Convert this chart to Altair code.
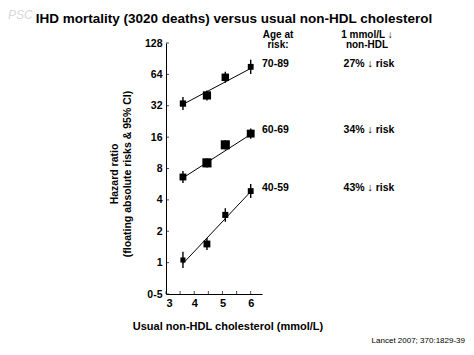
import altair as alt
import pandas as pd

# ---- data ----
cholesterol = [3.6, 4.45, 5.1, 6.0]
age_groups = ["40-59", "60-69", "70-89"]
hr_40_59 = [1.06, 1.51, 2.87, 4.86]
lo_40_59 = [0.89, 1.32, 2.47, 4.16]
hi_40_59 = [1.27, 1.72, 3.33, 5.68]
hr_60_69 = [6.63, 9.06, 13.5, 17.3]
lo_60_69 = [5.81, 8.2, 12.2, 15.4]
hi_60_69 = [7.57, 10.0, 14.9, 19.4]
hr_70_89 = [33.6, 40.2, 60.0, 75.6]
lo_70_89 = [29.1, 36.0, 53.1, 64.7]
hi_70_89 = [38.8, 44.9, 67.7, 88.3]
fit_start = [0.98, 6.5, 33.0]
fit_end = [4.8, 17.0, 73.0]
risk_labels = ["43% \u2193 risk", "34% \u2193 risk", "27% \u2193 risk"]
y_ticks = [0.5, 1, 2, 4, 8, 16, 32, 64, 128]
x_ticks = [3, 3.5, 4, 4.5, 5, 5.5, 6]

rows = []
for g, hr, lo, hi in [("40-59", hr_40_59, lo_40_59, hi_40_59),
                      ("60-69", hr_60_69, lo_60_69, hi_60_69),
                      ("70-89", hr_70_89, lo_70_89, hi_70_89)]:
    for c, h, l, u in zip(cholesterol, hr, lo, hi):
        rows.append({"group": g, "chol": c, "hr": h, "lo": l, "hi": u})
points = pd.DataFrame(rows)

fits = pd.DataFrame({
    "group": age_groups,
    "x0": [cholesterol[0]] * 3,
    "x1": [cholesterol[-1]] * 3,
    "y0": fit_start,
    "y1": fit_end,
    "risk": risk_labels,
})

FONT = "Liberation Sans"
W, H = 96, 251
xscale = alt.Scale(domain=[3, 6.4], nice=False, zero=False)
yscale = alt.Scale(type="log", base=2, domain=[0.5, 128], nice=False)

main_x_axis = alt.Axis(values=x_ticks, orient="bottom", ticks=False, tickSize=0,
                       labelExpr="datum.value % 1 == 0 ? format(datum.value, 'd') : ''",
                       domainColor="black", domainWidth=1, grid=False, title=None,
                       labelFont=FONT, labelFontSize=11, labelFontWeight="bold",
                       labelColor="black", labelPadding=3)
main_y_axis = alt.Axis(values=y_ticks, orient="left", ticks=False, tickSize=0,
                       labelExpr="datum.value == 0.5 ? '0-5' : format(datum.value, 'd')",
                       domainColor="black", domainWidth=1, grid=False, title=None,
                       labelFont=FONT, labelFontSize=10.5, labelFontWeight="bold",
                       labelColor="black", labelPadding=4)

# inward tick marks along both axes, placed by the scales
x_tick_marks = alt.Chart(pd.DataFrame({"v": x_ticks})).mark_tick(
    color="black", thickness=1, size=3, orient="vertical").encode(
    x=alt.X("v:Q", scale=xscale, axis=None), y=alt.value(H - 1.5))
y_tick_marks = alt.Chart(pd.DataFrame({"v": y_ticks})).mark_tick(
    color="black", thickness=1, size=3, orient="horizontal").encode(
    y=alt.Y("v:Q", scale=yscale, axis=None), x=alt.value(1.5))

fit_lines = alt.Chart(fits).mark_rule(color="black", strokeWidth=1).encode(
    x=alt.X("x0:Q", scale=xscale, axis=None),
    x2="x1:Q",
    y=alt.Y("y0:Q", scale=yscale, axis=None),
    y2="y1:Q",
)

error_bars = alt.Chart(points).mark_rule(color="black", strokeWidth=1.4).encode(
    x=alt.X("chol:Q", scale=xscale, axis=None),
    y=alt.Y("lo:Q", scale=yscale, axis=None),
    y2="hi:Q",
)

squares = alt.Chart(points).transform_calculate(
    prec="pow(log(datum.hi / datum.lo), -2)"
).mark_square(color="black", opacity=1, filled=True).encode(
    x=alt.X("chol:Q", scale=xscale, axis=main_x_axis),
    y=alt.Y("hr:Q", scale=yscale, axis=main_y_axis),
    size=alt.Size("prec:Q", scale=alt.Scale(type="linear", domain=[0, 100], range=[0, 330]), legend=None),
)

age_text = alt.Chart(fits).mark_text(align="left", baseline="middle", dy=-4, font=FONT,
                                     fontSize=10.5, fontWeight="bold", color="black").encode(
    x=alt.value(96), y=alt.Y("y1:Q", scale=yscale, axis=None), text="group:N")
risk_text = alt.Chart(fits).mark_text(align="center", baseline="middle", dy=-4, font=FONT,
                                      fontSize=10.5, fontWeight="bold", color="black").encode(
    x=alt.value(203), y=alt.Y("y1:Q", scale=yscale, axis=None), text="risk:N")


def label(txt, x, y, size=10.5, weight="bold", align="center", angle=0, color="black", style="normal"):
    return alt.Chart(pd.DataFrame({"t": [txt]})).mark_text(
        align=align, baseline="middle", font=FONT, fontSize=size, fontWeight=weight,
        color=color, angle=angle, fontStyle=style).encode(
        x=alt.value(x), y=alt.value(y), text="t:N")


texts = [
    label("IHD mortality (3020 deaths) versus usual non-HDL cholesterol", 68, -24, size=13.5),
    label("PSC", -158, -28, size=12, weight="normal", align="left", color="#d8d8d8", style="italic"),
    label("Age at", 112, -8, size=10),
    label("risk:", 112, 2, size=10),
    label("1 mmol/L \u2193", 201, -8, size=10),
    label("non-HDL", 201, 2, size=10),
    label("Hazard ratio", -51, 131, angle=270),
    label("(floating absolute risks & 95% CI)", -38, 131, angle=270),
    label("Usual non-HDL cholesterol (mmol/L)", 62, 284, size=11),
    label("Lancet 2007; 370:1829-39", 299, 298, size=8, weight="normal", align="right"),
]

chart = alt.layer(fit_lines, error_bars, squares, x_tick_marks, y_tick_marks,
                  age_text, risk_text, *texts).resolve_axis(
    x="independent", y="independent"
).properties(
    width=W, height=H,
    padding={"left": 158, "top": 35, "right": 204, "bottom": 53},
    autosize=alt.AutoSizeParams(type="none"),
    background="white",
).configure_view(stroke=None)

chart.save("out.html", embed_options={"renderer": "svg", "actions": False})
